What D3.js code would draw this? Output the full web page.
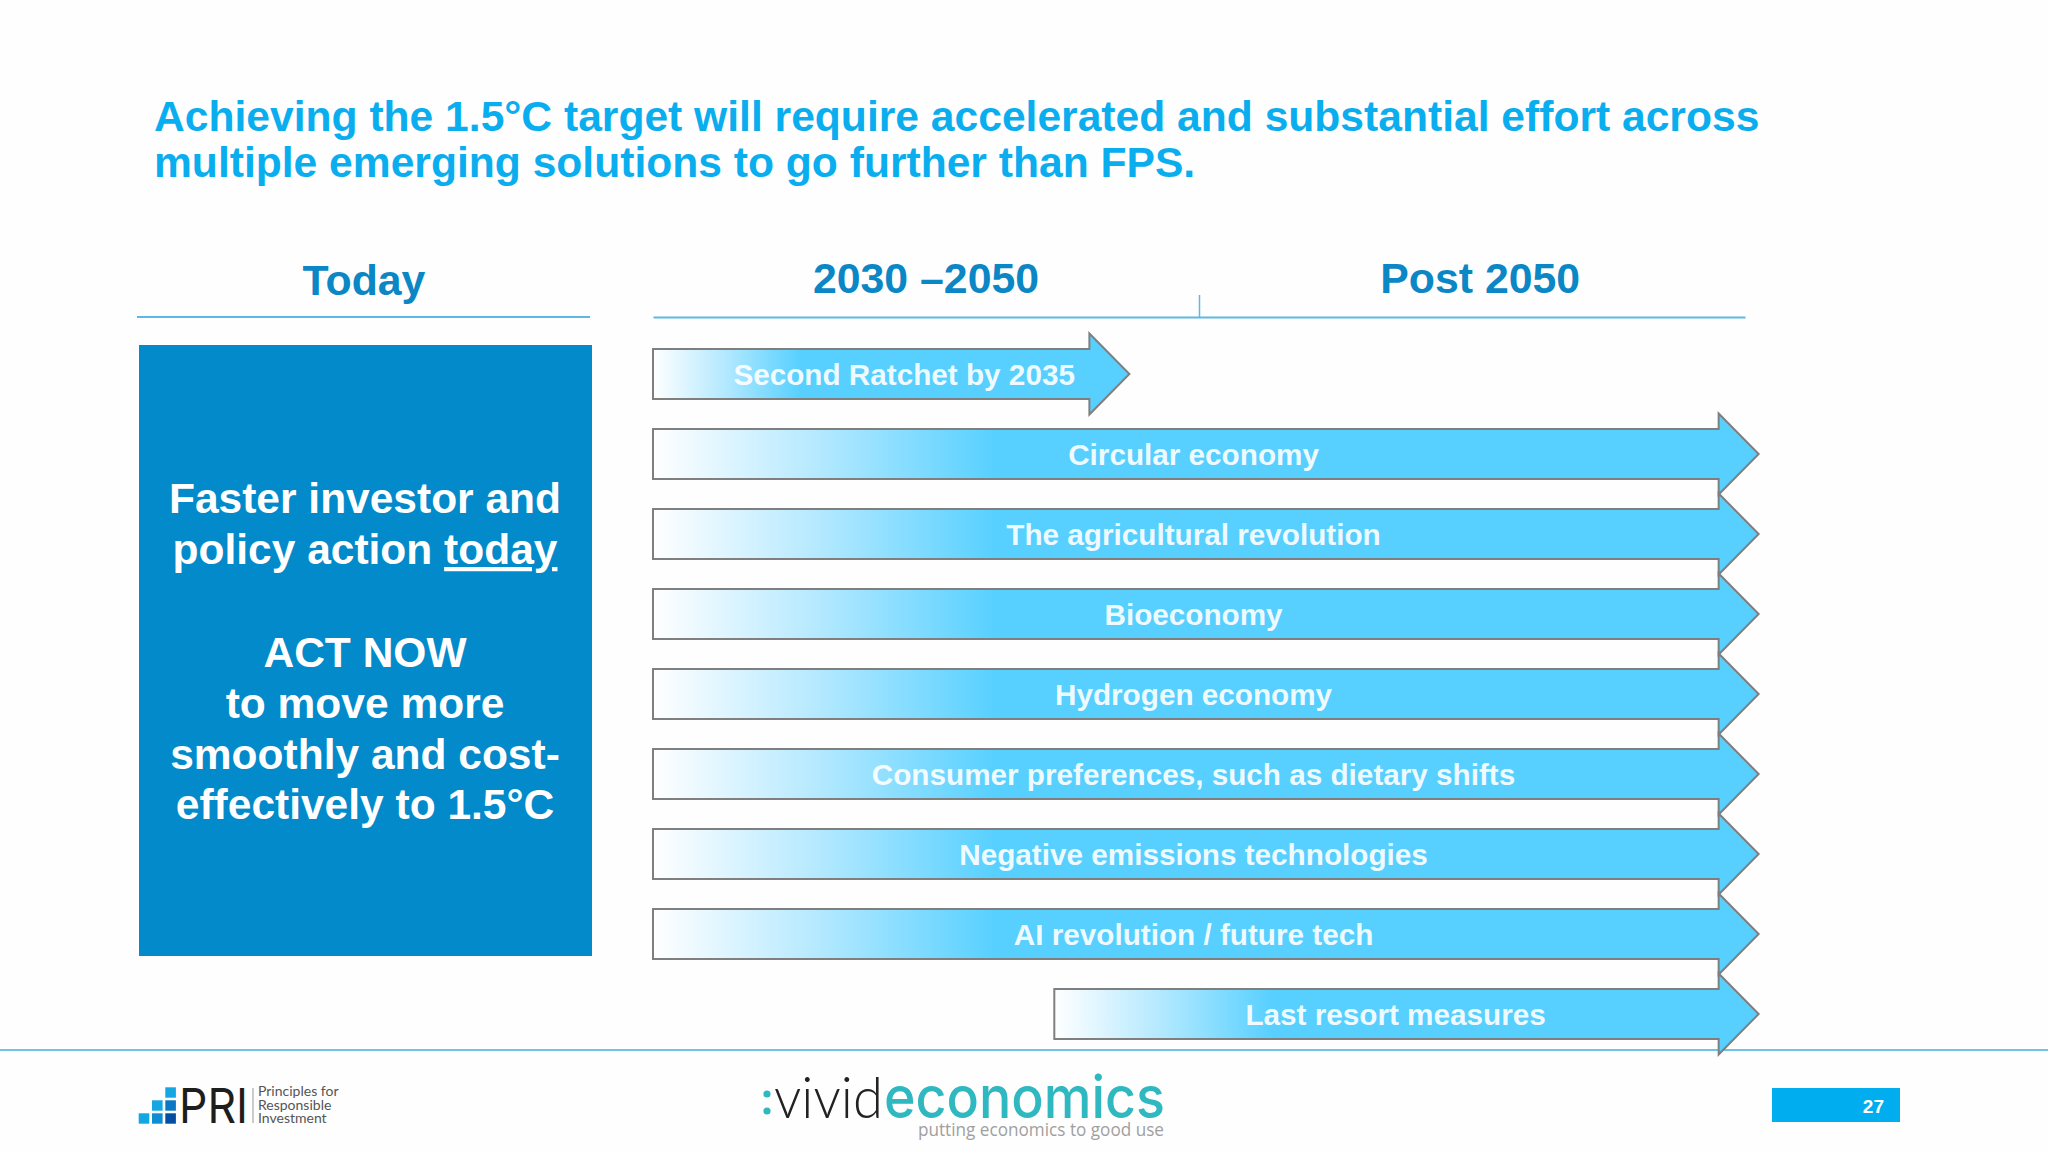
<!DOCTYPE html>
<html>
<head>
<meta charset="utf-8">
<script src="https://cdn.jsdelivr.net/npm/d3@7"></script>
<style>
    html, body { margin: 0; padding: 0; background: #fefefe; }
    svg { display: block; font-family: "Liberation Sans", Arial, sans-serif; }
</style>
</head>
<body>
<div id="chart-container"></div>
<script>
// Values. The timeline is schematic, so years are approximate.
const titleLines = [
    "Achieving the 1.5°C target will require accelerated and substantial effort across",
    "multiple emerging solutions to go further than FPS."
];
const arrowLabels = [
    "Second Ratchet by 2035",
    "Circular economy",
    "The agricultural revolution",
    "Bioeconomy",
    "Hydrogen economy",
    "Consumer preferences, such as dietary shifts",
    "Negative emissions technologies",
    "AI revolution / future tech",
    "Last resort measures"
];
const arrowStarts = [2030, 2030, 2030, 2030, 2030, 2030, 2030, 2030, 2044.7];
const arrowEnds = [2047.45, 2070.5, 2070.5, 2070.5, 2070.5, 2070.5, 2070.5, 2070.5, 2070.5];
const labelYears = [2039.2, 2049.8, 2049.8, 2049.8, 2049.8, 2049.8, 2049.8, 2049.8, 2057.2];
const periodLabels = ["2030 –2050", "Post 2050"];
const periodYears = [2040, 2060.3];
const periodBreaks = [2050];
const boxLines = [
    ["Faster investor and"],
    ["policy action ", "today"],
    [],
    ["ACT NOW"],
    ["to move more"],
    ["smoothly and cost-"],
    ["effectively to 1.5°C"]
];
const pageNumber = "27";

const width = 2048;
const height = 1152;
const headDepth = 40;
const headFlare = 15.5;

const svg = d3.select("#chart-container").append("svg")
    .attr("width", width)
    .attr("height", height)
    .attr("viewBox", `0 0 ${width} ${height}`);

const x = d3.scaleLinear().domain([2030, 2070]).range([653, 1745]);
const y = d3.scaleBand().domain(arrowLabels).range([334, 1054])
    .paddingInner(0.375).paddingOuter(0.1875);

const grad = svg.append("defs").append("linearGradient").attr("id", "arrowFill");
grad.append("stop").attr("offset", "0%").attr("stop-color", "#ffffff");
grad.append("stop").attr("offset", "15%").attr("stop-color", "#b4e9ff");
grad.append("stop").attr("offset", "31%").attr("stop-color", "#57d0ff");
grad.append("stop").attr("offset", "100%").attr("stop-color", "#57d0ff");

// Title
svg.append("g").selectAll("text")
    .data(titleLines)
    .enter().append("text")
    .attr("x", 154)
    .attr("y", (d, i) => 131 + i * 46)
    .attr("font-size", 42.6)
    .attr("font-weight", "bold")
    .attr("fill", "#0aaeee")
    .text(d => d);

// Column headers
svg.append("text")
    .attr("x", 364).attr("y", 295)
    .attr("text-anchor", "middle")
    .attr("font-size", 42.8).attr("font-weight", "bold").attr("fill", "#0a87c4")
    .text("Today");
svg.append("line")
    .attr("x1", 137).attr("x2", 590).attr("y1", 317).attr("y2", 317)
    .attr("stroke", "#5db8e5").attr("stroke-width", 2);

svg.append("g").selectAll("text")
    .data(periodLabels)
    .enter().append("text")
    .attr("x", (d, i) => x(periodYears[i]))
    .attr("y", 293)
    .attr("text-anchor", "middle")
    .attr("font-size", 42.8).attr("font-weight", "bold").attr("fill", "#0a87c4")
    .text(d => d);

const axis = svg.append("g")
    .attr("transform", "translate(0,317)")
    .call(d3.axisTop(x).tickValues(periodBreaks).tickSize(22).tickSizeOuter(0).tickFormat(""));
axis.select(".domain").attr("stroke", "#5db8e5").attr("stroke-width", 2);
axis.selectAll(".tick line").attr("stroke", "#5db8e5").attr("stroke-width", 1.5);

// Left call-out box
svg.append("rect")
    .attr("x", 139).attr("y", 345).attr("width", 453).attr("height", 611)
    .attr("fill", "#028aca");

const boxBaselines = [513, 564, 0, 666.5, 717.5, 768.5, 819];
const boxText = svg.append("g").selectAll("text")
    .data(boxLines)
    .enter().append("text")
    .attr("x", 365)
    .attr("y", (d, i) => boxBaselines[i])
    .attr("text-anchor", "middle")
    .attr("font-size", 42.5).attr("font-weight", "bold").attr("fill", "#ffffff");
boxText.selectAll("tspan")
    .data(d => d)
    .enter().append("tspan")
    .attr("text-decoration", (d, i) => i === 1 ? "underline" : null)
    .text(d => d);

// Footer rule goes under the arrows
svg.append("line")
    .attr("x1", 0).attr("x2", width).attr("y1", 1050).attr("y2", 1050)
    .attr("stroke", "#6cc5e8").attr("stroke-width", 2);

// Arrows
const arrowPath = (d, i) => {
    const top = y(d);
    const bottom = top + y.bandwidth();
    const left = x(arrowStarts[i]);
    const tip = x(arrowEnds[i]);
    const neck = tip - headDepth;
    return `M${left},${top}H${neck}V${top - headFlare}L${tip},${(top + bottom) / 2}`
        + `L${neck},${bottom + headFlare}V${bottom}H${left}Z`;
};

const arrows = svg.append("g").selectAll("g")
    .data(arrowLabels)
    .enter().append("g");

arrows.append("path")
    .attr("d", arrowPath)
    .attr("fill", "url(#arrowFill)")
    .attr("stroke", "#7f7f7f")
    .attr("stroke-width", 2);

arrows.append("text")
    .attr("x", (d, i) => x(labelYears[i]))
    .attr("y", d => y(d) + y.bandwidth() / 2 + 11)
    .attr("text-anchor", "middle")
    .attr("font-size", 29.7).attr("font-weight", "bold").attr("fill", "#ffffff")
    .attr("fill-opacity", 0.92)
    .text(d => d);

// PRI logo
const priColumns = [0, 1, 2];
const priRows = [0, 1, 2];
const priCells = priRows.flatMap(r => priColumns.filter(c => c >= 2 - r).map(c => ({ r, c })));
const priColors = d3.scaleOrdinal()
    .domain([0, 1, 2, 3])
    .range(["#14a7e3", "#0f8dd3", "#0b78c4", "#034ea2"]);
const priX = d3.scalePoint().domain(priColumns).range([138.7, 165.3]);
const priY = d3.scalePoint().domain(priRows).range([1087.3, 1113.3]);

svg.append("g").selectAll("rect")
    .data(priCells)
    .enter().append("rect")
    .attr("x", d => priX(d.c))
    .attr("y", d => priY(d.r))
    .attr("width", 10.6).attr("height", 10.4)
    .attr("fill", d => {
        if (d.r === 2 && d.c === 2) return priColors(3);
        if (d.r === 1 && d.c === 2) return priColors(2);
        return d.c + d.r > 2 ? priColors(1) : priColors(0);
    });

svg.append("text")
    .attr("x", 179).attr("y", 1123)
    .attr("font-family", "Inter, sans-serif")
    .attr("font-size", 48).attr("font-weight", 400).attr("fill", "#1e1e1e")
    .attr("textLength", 69).attr("lengthAdjust", "spacingAndGlyphs")
    .text("PRI");
svg.append("line")
    .attr("x1", 253).attr("x2", 253).attr("y1", 1088).attr("y2", 1123)
    .attr("stroke", "#9a9a9a").attr("stroke-width", 1);
svg.append("g").selectAll("text")
    .data(["Principles for", "Responsible", "Investment"])
    .enter().append("text")
    .attr("x", 258)
    .attr("y", (d, i) => 1096 + i * 13.5)
    .attr("font-family", "Lato, sans-serif")
    .attr("font-size", 14).attr("fill", "#555555")
    .text(d => d);

// Vivid Economics logo
svg.append("g").selectAll("circle")
    .data([1094, 1111])
    .enter().append("circle")
    .attr("cx", 767).attr("cy", d => d).attr("r", 3.6)
    .attr("fill", "#2fb8c0");
svg.append("text")
    .attr("x", 774).attr("y", 1118)
    .attr("font-family", "Lato, sans-serif")
    .attr("font-size", 57).attr("font-weight", 300).attr("fill", "#222222")
    .attr("textLength", 109).attr("lengthAdjust", "spacingAndGlyphs")
    .text("vivid");
svg.append("text")
    .attr("x", 884).attr("y", 1118)
    .attr("font-family", "Inter, sans-serif")
    .attr("font-size", 58).attr("font-weight", 500).attr("fill", "#2fb8c0")
    .attr("textLength", 281).attr("lengthAdjust", "spacingAndGlyphs")
    .text("economics");
svg.append("text")
    .attr("x", 918).attr("y", 1136)
    .attr("font-family", "'Open Sans', sans-serif")
    .attr("font-size", 19).attr("fill", "#a0a0a0")
    .attr("textLength", 246).attr("lengthAdjust", "spacingAndGlyphs")
    .text("putting economics to good use");

// Page number tab
svg.append("rect")
    .attr("x", 1772).attr("y", 1088).attr("width", 128).attr("height", 34)
    .attr("fill", "#00aeef");
svg.append("text")
    .attr("x", 1884).attr("y", 1113)
    .attr("text-anchor", "end")
    .attr("font-size", 19).attr("font-weight", "bold").attr("fill", "#ffffff")
    .text(pageNumber);
</script>
</body>
</html>
